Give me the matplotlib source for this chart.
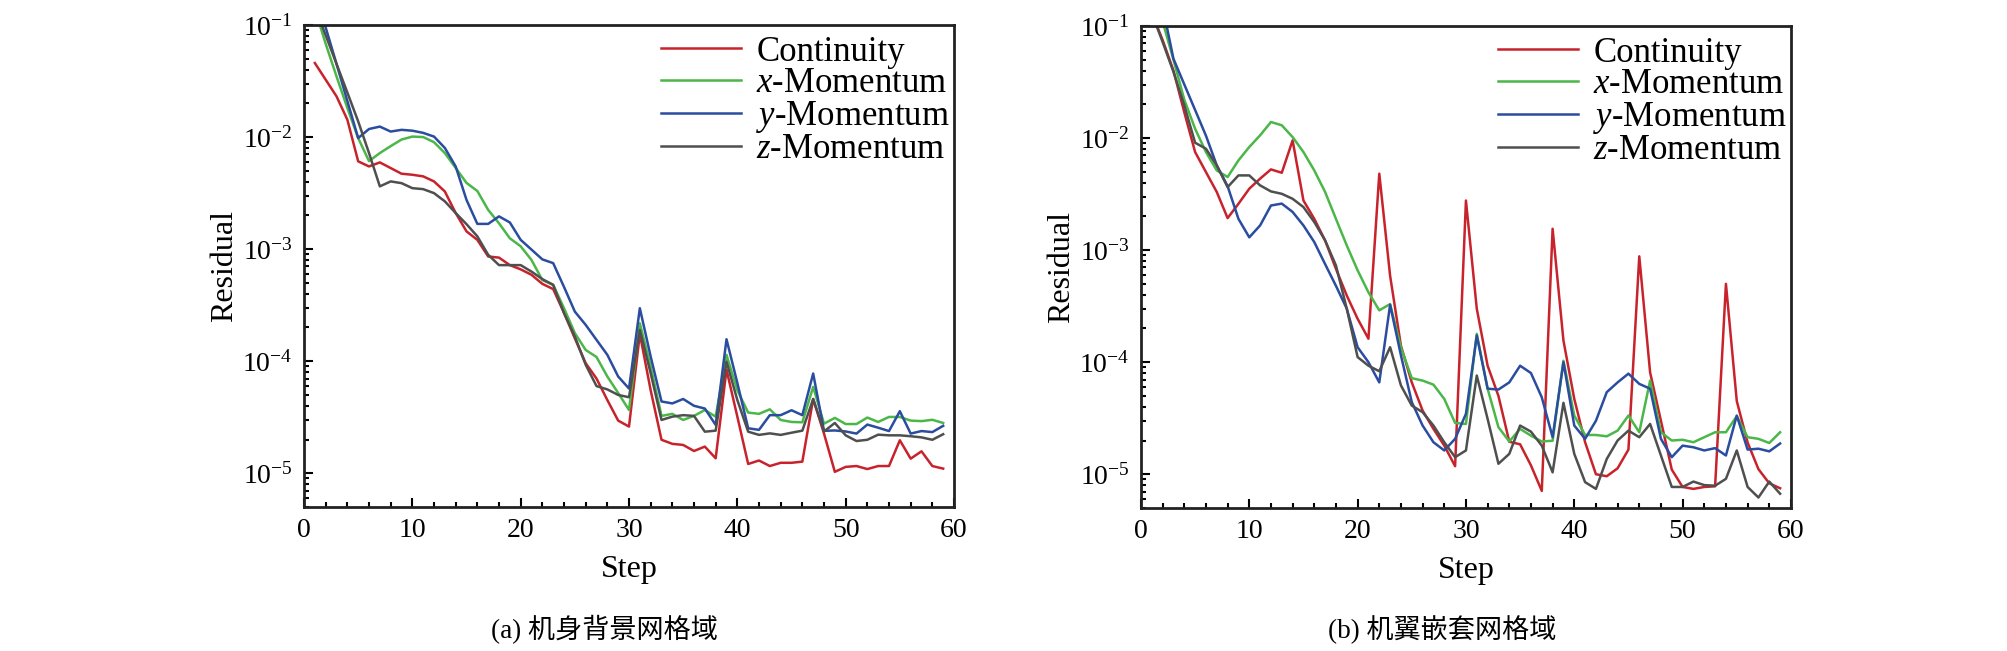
import matplotlib
matplotlib.use("Agg")
import matplotlib.pyplot as plt
from matplotlib.ticker import MultipleLocator, LogLocator, NullFormatter

plt.rcParams["font.family"] = ["Liberation Serif", "Noto Sans CJK SC"]
plt.rcParams["mathtext.fontset"] = "custom"
plt.rcParams["mathtext.rm"] = "Liberation Serif"
plt.rcParams["mathtext.it"] = "Liberation Serif:italic"
plt.rcParams["mathtext.bf"] = "Liberation Serif:bold"

steps = list(range(1, 60))
labels = ["Continuity", "$x$-Momentum", "$y$-Momentum", "$z$-Momentum"]
colors = ["#c8232c", "#4bb749", "#2a4d9f", "#4f4f4f"]
captions = ["(a) 机身背景网格域", "(b) 机翼嵌套网格域"]

# (a) fuselage background grid
a_cont = [0.0458, 0.0325, 0.0231, 0.0143, 0.00607, 0.00547, 0.00594, 0.00529, 0.00471, 0.00461,
          0.00446, 0.00402, 0.00327, 0.00210, 0.00144, 0.00121, 0.00086, 0.00084, 0.00072, 0.00066,
          0.00059, 0.00049, 0.00044, 2.7e-4, 1.6e-4, 9.6e-5, 7.0e-5, 4.5e-5, 2.95e-5, 2.61e-5,
          1.75e-4, 5.5e-5, 1.99e-5, 1.83e-5, 1.79e-5, 1.58e-5, 1.73e-5, 1.36e-5, 8.4e-5, 3.2e-5,
          1.21e-5, 1.30e-5, 1.16e-5, 1.24e-5, 1.24e-5, 1.27e-5, 4.6e-5, 2.26e-5, 1.03e-5, 1.14e-5,
          1.16e-5, 1.09e-5, 1.16e-5, 1.16e-5, 1.97e-5, 1.35e-5, 1.57e-5, 1.16e-5, 1.10e-5]
a_xmom = [0.14, 0.068, 0.0348, 0.0182, 0.0098, 0.0061, 0.0072, 0.0083, 0.0095, 0.0101,
          0.0100, 0.0090, 0.0072, 0.0053, 0.0039, 0.0033, 0.00224, 0.0017, 0.00125, 0.00106,
          0.0008, 0.00053, 0.00048, 2.97e-4, 1.78e-4, 1.26e-4, 1.09e-4, 7.3e-5, 5.2e-5, 3.67e-5,
          2.18e-4, 8.95e-5, 3.25e-5, 3.39e-5, 2.99e-5, 3.25e-5, 3.67e-5, 3.2e-5, 1.14e-4, 5.5e-5,
          3.48e-5, 3.39e-5, 3.72e-5, 2.99e-5, 2.87e-5, 2.85e-5, 5.9e-5, 2.77e-5, 3.12e-5, 2.75e-5,
          2.75e-5, 3.14e-5, 2.87e-5, 3.18e-5, 3.18e-5, 2.95e-5, 2.92e-5, 3.0e-5, 2.81e-5]
a_ymom = [0.2, 0.095, 0.045, 0.021, 0.0098, 0.0118, 0.0124, 0.0112, 0.0116, 0.0114,
          0.0109, 0.0101, 0.0080, 0.00547, 0.00275, 0.00168, 0.00168, 0.00196, 0.00173, 0.00121,
          0.00099, 0.00081, 0.00075, 4.6e-4, 2.77e-4, 2.11e-4, 1.55e-4, 1.14e-4, 7.3e-5, 5.7e-5,
          2.97e-4, 1.1e-4, 4.37e-5, 4.2e-5, 4.6e-5, 4.0e-5, 3.78e-5, 2.7e-5, 1.57e-4, 6.4e-5,
          2.52e-5, 2.44e-5, 3.3e-5, 3.3e-5, 3.65e-5, 3.3e-5, 7.76e-5, 2.39e-5, 2.41e-5, 2.36e-5,
          2.26e-5, 2.72e-5, 2.55e-5, 2.38e-5, 3.58e-5, 2.26e-5, 2.38e-5, 2.33e-5, 2.65e-5]
a_zmom = [0.145, 0.081, 0.045, 0.025, 0.0138, 0.0072, 0.00363, 0.00402, 0.00388, 0.0035,
          0.00343, 0.00316, 0.00267, 0.0021, 0.00167, 0.0013, 0.00089, 0.00072, 0.00072, 0.00072,
          0.00063, 0.00054, 0.00048, 2.69e-4, 1.66e-4, 9.3e-5, 6.0e-5, 5.6e-5, 5.0e-5, 4.77e-5,
          1.9e-4, 7.8e-5, 2.99e-5, 3.2e-5, 3.3e-5, 3.25e-5, 2.35e-5, 2.4e-5, 9.9e-5, 4.5e-5,
          2.35e-5, 2.2e-5, 2.27e-5, 2.2e-5, 2.3e-5, 2.4e-5, 4.6e-5, 2.36e-5, 2.81e-5, 2.18e-5,
          1.94e-5, 1.99e-5, 2.21e-5, 2.18e-5, 2.18e-5, 2.14e-5, 2.09e-5, 1.99e-5, 2.23e-5]

# (b) wing overset grid
b_cont = [0.13, 0.075, 0.04, 0.017, 0.0075, 0.00497, 0.0033, 0.00193, 0.00259, 0.00353,
          0.00434, 0.00525, 0.0049, 0.00953, 0.00277, 0.0019, 0.00122, 0.00068, 0.000393, 0.000244,
          0.000162, 0.00481, 5.9e-4, 1.4e-4, 6.6e-5, 3.7e-5, 2.54e-5, 1.8e-5, 1.18e-5, 2.77e-3,
          3.0e-4, 9.3e-5, 5.0e-5, 1.95e-5, 1.85e-5, 1.2e-5, 7.1e-6, 1.55e-3, 1.56e-4, 4.7e-5,
          1.93e-5, 1.0e-5, 9.6e-6, 1.13e-5, 1.66e-5, 8.8e-4, 8.1e-5, 3.0e-5, 1.1e-5, 7.7e-6,
          7.4e-6, 7.7e-6, 7.8e-6, 5.0e-4, 4.5e-5, 1.92e-5, 1.11e-5, 8.3e-6, 7.5e-6]
b_xmom = [0.2, 0.11, 0.05, 0.022, 0.0121, 0.0075, 0.00514, 0.00449, 0.00632, 0.00832,
          0.01057, 0.0139, 0.013, 0.0102, 0.0075, 0.00514, 0.0033, 0.0019, 0.0011, 0.00066,
          0.00042, 0.00029, 0.00033, 1.35e-4, 7.2e-5, 6.85e-5, 6.3e-5, 4.7e-5, 2.87e-5, 2.81e-5,
          1.79e-4, 5.8e-5, 2.63e-5, 1.96e-5, 2.54e-5, 2.21e-5, 1.96e-5, 1.99e-5, 1.03e-4, 3.34e-5,
          2.24e-5, 2.24e-5, 2.18e-5, 2.45e-5, 3.34e-5, 2.37e-5, 6.85e-5, 2.37e-5, 2.0e-5, 2.03e-5,
          1.93e-5, 2.14e-5, 2.37e-5, 2.37e-5, 3.3e-5, 2.14e-5, 2.07e-5, 1.9e-5, 2.37e-5]
b_ymom = [0.3, 0.15, 0.051, 0.0301, 0.0178, 0.0105, 0.0057, 0.00372, 0.0019, 0.0013,
          0.00166, 0.0025, 0.0026, 0.00219, 0.00166, 0.00118, 0.00075, 0.00048, 0.0003, 0.000136,
          1.0e-4, 6.6e-5, 3.25e-4, 1.15e-4, 4.4e-5, 2.72e-5, 1.93e-5, 1.63e-5, 2.07e-5, 3.46e-5,
          1.73e-4, 5.8e-5, 5.7e-5, 6.6e-5, 9.3e-5, 8.0e-5, 4.86e-5, 2.14e-5, 1.0e-4, 2.72e-5,
          2.07e-5, 3.0e-5, 5.4e-5, 6.6e-5, 7.9e-5, 6.4e-5, 5.8e-5, 2.07e-5, 1.42e-5, 1.8e-5,
          1.74e-5, 1.63e-5, 1.71e-5, 1.47e-5, 3.34e-5, 1.66e-5, 1.69e-5, 1.6e-5, 1.88e-5]
b_zmom = [0.13, 0.072, 0.039, 0.0196, 0.00908, 0.00803, 0.0057, 0.00365, 0.00464, 0.00464,
          0.00378, 0.00334, 0.00318, 0.00287, 0.00242, 0.00178, 0.00122, 0.00073, 0.0003, 1.11e-4,
          9.3e-5, 8.3e-5, 1.36e-4, 6.2e-5, 4.1e-5, 3.58e-5, 2.72e-5, 1.93e-5, 1.42e-5, 1.63e-5,
          7.6e-5, 3.12e-5, 1.24e-5, 1.52e-5, 2.72e-5, 2.4e-5, 1.8e-5, 1.04e-5, 4.34e-5, 1.52e-5,
          8.5e-6, 7.4e-6, 1.37e-5, 2.0e-5, 2.45e-5, 2.14e-5, 2.81e-5, 1.47e-5, 7.7e-6, 7.7e-6,
          8.6e-6, 8.0e-6, 7.9e-6, 9.1e-6, 1.63e-5, 7.7e-6, 6.2e-6, 8.6e-6, 6.7e-6]


def draw_panel(ax, series):
    for values, label, color in zip(series, labels, colors):
        ax.plot(steps, values, color=color, lw=1.8, label=label)
    ax.set_yscale("log")
    ax.set_xlim(0, 60)
    ax.set_ylim(5e-6, 0.1)
    ax.xaxis.set_major_locator(MultipleLocator(10))
    ax.xaxis.set_minor_locator(MultipleLocator(2))
    ax.yaxis.set_major_locator(LogLocator(base=10))
    ax.yaxis.set_minor_locator(LogLocator(base=10, subs=range(2, 10), numticks=20))
    ax.yaxis.set_minor_formatter(NullFormatter())
    ax.tick_params(which="both", direction="in", top=False, right=False,
                   width=1.5, labelsize=20, pad=8)
    ax.tick_params(which="major", length=6.5)
    ax.tick_params(which="minor", length=3.6)
    for sp in ax.spines.values():
        sp.set_linewidth(2.0)
        sp.set_color("#222222")
    ax.set_xlabel("Step", fontsize=23)
    ax.set_ylabel("Residual", fontsize=23)
    ax.xaxis.set_label_coords(0.5, -0.1)
    ax.yaxis.set_label_coords(-0.1, 0.5)
    ax.legend(loc="upper left", bbox_to_anchor=(0.549, 0.978), frameon=False,
              borderpad=0, borderaxespad=0, handlelength=2.3, handletextpad=0.45,
              labelspacing=-0.04, fontsize=25)


fig = plt.figure(figsize=(20.08, 6.51), dpi=100)
ax_a = fig.add_axes([0.1514, 0.2212, 0.3237, 0.7404])
ax_b = fig.add_axes([0.5682, 0.2197, 0.3237, 0.7404])

draw_panel(ax_a, [a_cont, a_xmom, a_ymom, a_zmom])
draw_panel(ax_b, [b_cont, b_xmom, b_ymom, b_zmom])

fig.text(0.301, 0.033, captions[0], ha="center", va="center", fontsize=19.5)
fig.text(0.718, 0.033, captions[1], ha="center", va="center", fontsize=19.5)

fig.savefig("out.png", dpi=100)
